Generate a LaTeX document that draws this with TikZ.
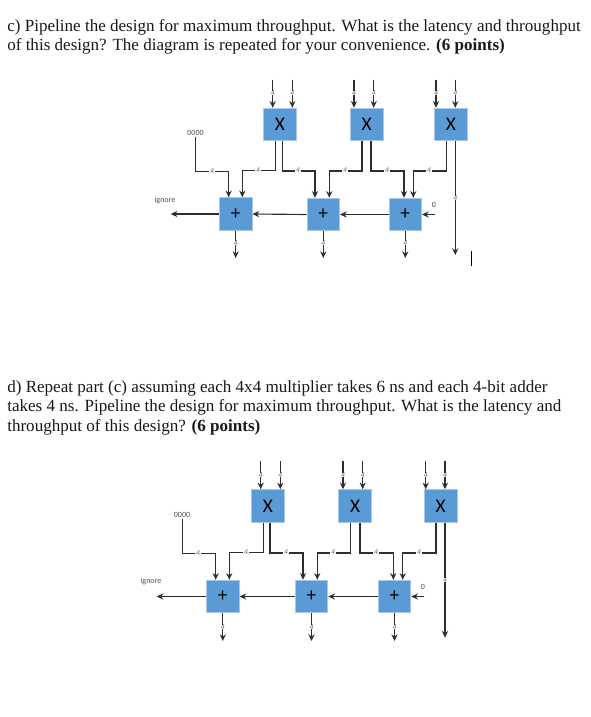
\documentclass[tikz,border=0pt]{standalone}
\usepackage{fontspec}
\setmainfont{Liberation Serif}
\newfontfamily\diafont{Carlito}
\usetikzlibrary{arrows.meta}
\definecolor{boxblue}{HTML}{5B9BD5}
\definecolor{boxedge}{HTML}{A9C8E8}
\definecolor{wirecol}{HTML}{2E2E2E}
\tikzset{
  para/.style={anchor=north west,inner sep=0pt,align=left,font=\fontsize{12.8pt}{14.4pt}\selectfont,text=black!90},
  blockbox/.style={draw=boxedge,line width=.6pt,fill=boxblue,minimum size=24.5pt,inner sep=0pt,font=\diafont\fontsize{14.5pt}{14.5pt}\selectfont,text=black},
  wire/.style={draw=wirecol,line width=.85pt},
  arrowwire/.style={wire,-{Stealth[length=5pt,width=4.6pt]}},
  smalltxt/.style={font=\diafont\fontsize{6pt}{6.5pt}\selectfont,text=black!70,inner sep=.5pt},
  bus/.style={font=\diafont\itshape\fontsize{5.6pt}{5.6pt}\selectfont,text=black!60,fill=white,inner xsep=.6pt,inner ysep=0pt}
}
% from node, x at source, to node, x at target, y of the run, x of the label
\newcommand{\elbowwire}[6]{%
  \coordinate (eu) at (#2,0); \coordinate (ev) at (#4,0); \coordinate (eh) at (0,#5);
  \draw[arrowwire] (#1.south -| eu) -- (eu |- eh) -- (ev |- eh) -- (#3.north -| ev);
  \node[bus] at (#6,#5-.8) {4};
}
% x of input, y of start, target node, y of label
\newcommand{\inwire}[4]{%
  \coordinate (ei) at (#1,#2);
  \draw[arrowwire] (ei) -- (ei |- #3.north);
  \node[bus] at (#1,#4) {4};
}
% source node, end y, y of label
\newcommand{\outwire}[3]{%
  \coordinate (ee) at (#1.south |- 0,#2);
  \draw[arrowwire] (#1.south) -- (ee);
  \node[bus] at (#1.south |- 0,#3) {4};
}
\begin{document}
\begin{tikzpicture}[x=.75pt,y=-.75pt]
\useasboundingbox (0,0) rectangle (591,717);
\node[para] (tc) at (7,19.5) {c) Pipeline the design for maximum throughput. What is the latency and throughput\\of this design? The diagram is repeated for your convenience. \textbf{(6 points)}};
\node[para] (td) at (7,380.5) {d) Repeat part (c) assuming each 4x4 multiplier takes 6 ns and each 4-bit adder\\takes 4 ns. Pipeline the design for maximum throughput. What is the latency and\\throughput of this design? \textbf{(6 points)}};

% Diagram c
\node[blockbox] (ma) at (280,124.5) {X};
\node[blockbox] (mb) at (366.7,124.5) {X};
\node[blockbox] (mc) at (451,124.5) {X};
\node[blockbox] (aa) at (235.7,214) {+};
\node[blockbox] (ab) at (323.3,214.5) {+};
\node[blockbox] (ac) at (405.3,214.5) {+};
\node[smalltxt] (za) at (195.5,133) {0000};
\node[smalltxt] (iga) at (165,200) {ignore};
\node[smalltxt] (oa) at (434,205) {0};
\coordinate (iga-end) at (170.7,214);
\coordinate (oa-start) at (434.7,214.5);
\coordinate (tick-a) at (471.3,251);
\coordinate (tick-b) at (471.3,265.7);
\inwire{272.7}{80}{ma}{93}
\inwire{292.3}{80}{ma}{93}
\inwire{354}{80}{mb}{93}
\inwire{373.7}{80}{mb}{93}
\inwire{436}{80}{mc}{93}
\inwire{455.3}{80}{mc}{93}
\elbowwire{za}{195.7}{aa}{228.7}{171.5}{212}
\elbowwire{ma}{275.7}{aa}{242.3}{170.5}{258}
\elbowwire{ma}{282.3}{ab}{315}{171}{298}
\elbowwire{mb}{362}{ab}{329.3}{171}{345}
\elbowwire{mb}{371}{ac}{404}{171}{387}
\elbowwire{mc}{446.3}{ac}{413.3}{171}{429}
\coordinate (mca) at (455.3,255);
\draw[arrowwire] (mc.south -| mca) -- (mca);
\node[bus] at (455.3,198) {4};
\draw[arrowwire] (aa.west) -- (iga-end);
\draw[arrowwire] (ab.west) -- (aa.east);
\draw[arrowwire] (ac.west) -- (ab.east);
\draw[arrowwire] (oa-start) -- (ac.east);
\outwire{aa}{258}{243}
\outwire{ab}{258}{243}
\outwire{ac}{258}{243}
\draw[line width=.8pt,black] (tick-a) -- (tick-b);

% Diagram d
\node[blockbox] (md) at (268,506) {X};
\node[blockbox] (me) at (355.2,506) {X};
\node[blockbox] (mf) at (440.7,506) {X};
\node[blockbox] (ad) at (222.8,596.5) {+};
\node[blockbox] (ae) at (311.5,596.5) {+};
\node[blockbox] (af) at (394.5,596.5) {+};
\node[smalltxt] (zd) at (182,515) {0000};
\node[smalltxt] (igd) at (151,581) {ignore};
\node[smalltxt] (od) at (423,587) {0};
\coordinate (igd-end) at (156.7,596.5);
\coordinate (od-start) at (424,596.5);
\inwire{260.7}{461}{md}{475}
\inwire{280.3}{461}{md}{475}
\inwire{343}{461}{me}{475}
\inwire{362.7}{461}{me}{475}
\inwire{425.7}{461}{mf}{475}
\inwire{445}{461}{mf}{475}
\elbowwire{zd}{182.3}{ad}{215.7}{553.7}{198}
\elbowwire{md}{263.3}{ad}{229.3}{552.7}{246}
\elbowwire{md}{270}{ae}{303}{553}{286}
\elbowwire{me}{350.7}{ae}{317.3}{553}{333}
\elbowwire{me}{360}{af}{393.3}{553}{376}
\elbowwire{mf}{436}{af}{402.7}{553}{419}
\coordinate (mfa) at (445,637.7);
\draw[arrowwire] (mf.south -| mfa) -- (mfa);
\node[bus] at (445,580) {4};
\draw[arrowwire] (ad.west) -- (igd-end);
\draw[arrowwire] (ae.west) -- (ad.east);
\draw[arrowwire] (af.west) -- (ae.east);
\draw[arrowwire] (od-start) -- (af.east);
\outwire{ad}{641}{627}
\outwire{ae}{641}{627}
\outwire{af}{641}{627}
\end{tikzpicture}
\end{document}
